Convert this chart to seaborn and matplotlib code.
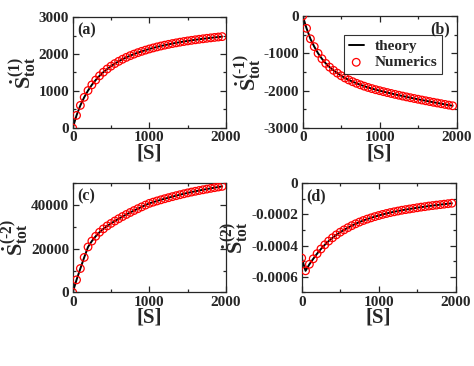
import numpy as np
import matplotlib
matplotlib.use("Agg")
import matplotlib.pyplot as plt
import seaborn as sns
from matplotlib.ticker import MultipleLocator, FuncFormatter

# substrate concentration grid (same for every panel)
S = [0, 50, 100, 150, 200, 250, 300, 350, 400, 450,
     500, 550, 600, 650, 700, 750, 800, 850, 900, 950,
     1000, 1050, 1100, 1150, 1200, 1250, 1300, 1350, 1400, 1450,
     1500, 1550, 1600, 1650, 1700, 1750, 1800, 1850, 1900, 1950]

# panel (a): S_tot^(1)
s_a = [0, 341, 611, 830, 1012, 1166, 1296, 1410, 1508, 1595,
       1672, 1741, 1802, 1858, 1909, 1955, 1997, 2036, 2072, 2105,
       2136, 2164, 2191, 2216, 2239, 2261, 2282, 2301, 2320, 2337,
       2354, 2369, 2384, 2398, 2411, 2424, 2436, 2448, 2459, 2470]

# panel (b): S_tot^(-1)
s_b = [0, -330, -610, -820, -1000, -1145, -1270, -1370, -1455, -1530,
       -1600, -1660, -1713, -1760, -1803, -1843, -1880, -1914, -1945, -1974,
       -2000, -2026, -2051, -2075, -2099, -2122, -2145, -2167, -2189, -2210,
       -2230, -2251, -2271, -2291, -2311, -2330, -2349, -2368, -2387, -2405]

# panel (c): S_tot^(-2)
s_c = [0, 5700, 10900, 16000, 20800, 23500, 25700, 27550, 29100, 30450,
       31600, 32700, 33750, 34750, 35700, 36620, 37500, 38350, 39190, 40010,
       40800, 41360, 41900, 42420, 42920, 43400, 43870, 44320, 44760, 45190,
       45600, 45980, 46340, 46690, 47030, 47360, 47680, 47990, 48300, 48600]

# panel (d): S_tot^(2)
s_d = [-4.80e-4, -5.62e-4, -5.20e-4, -4.85e-4, -4.52e-4, -4.22e-4, -3.95e-4, -3.71e-4, -3.50e-4, -3.31e-4,
       -3.14e-4, -2.99e-4, -2.85e-4, -2.72e-4, -2.60e-4, -2.49e-4, -2.39e-4, -2.30e-4, -2.22e-4, -2.14e-4,
       -2.07e-4, -2.00e-4, -1.94e-4, -1.88e-4, -1.83e-4, -1.78e-4, -1.73e-4, -1.69e-4, -1.65e-4, -1.61e-4,
       -1.57e-4, -1.53e-4, -1.50e-4, -1.46e-4, -1.43e-4, -1.40e-4, -1.37e-4, -1.34e-4, -1.31e-4, -1.28e-4]

sns.set_style("ticks")
plt.rcParams['font.family'] = ['Liberation Serif', 'DejaVu Serif']
plt.rcParams['font.weight'] = 'bold'
plt.rcParams['mathtext.fontset'] = 'custom'
plt.rcParams['mathtext.rm'] = 'Liberation Serif:bold'
plt.rcParams['mathtext.bf'] = 'Liberation Serif:bold'
plt.rcParams['mathtext.it'] = 'Liberation Serif:bold'
plt.rcParams['axes.unicode_minus'] = False

fig = plt.figure(figsize=(4.74, 3.66), dpi=100)

W, H = 474, 366
def box(l, t, r, b):
    return [l / W, 1 - b / H, (r - l) / W, (b - t) / H]

panels = [
    dict(pos=box(72.7, 17, 226, 128), y=s_a, lim=(0, 3000), major=1000, minor=500,
         tag="(a)", tagx=0.03, sup="(1)"),
    dict(pos=box(302.7, 16, 456.5, 128), y=s_b, lim=(-3000, 0), major=1000, minor=500,
         tag="(b)", tagx=0.83, sup="(\u20101)"),
    dict(pos=box(72.7, 183.3, 226, 292.3), y=s_c, lim=(0, 50000), major=20000, minor=10000,
         tag="(c)", tagx=0.03, sup="(\u20102)"),
    dict(pos=box(301.7, 183.3, 455.7, 292.3), y=s_d, lim=(-0.0007, 0), major=0.0002, minor=0.0001,
         tag="(d)", tagx=0.03, sup="(2)"),
]

for i, p in enumerate(panels):
    ax = fig.add_axes(p["pos"])
    show_leg = (i == 1)
    sns.lineplot(x=S, y=p["y"], ax=ax, color="black", linewidth=1.4,
                 label="theory" if show_leg else None, legend=False)
    sns.scatterplot(x=S, y=p["y"], ax=ax, marker="o", s=30, facecolor="none",
                    edgecolor="red", linewidth=0.9,
                    label="Numerics" if show_leg else None, legend=False, zorder=3)
    ax.set_xlim(0, 2000)
    ax.set_ylim(*p["lim"])
    ax.xaxis.set_major_locator(MultipleLocator(1000))
    ax.xaxis.set_minor_locator(MultipleLocator(500))
    ax.yaxis.set_major_locator(MultipleLocator(p["major"]))
    ax.yaxis.set_minor_locator(MultipleLocator(p["minor"]))
    ax.yaxis.set_major_formatter(FuncFormatter(lambda v, _: "%g" % round(v, 6)))
    ax.tick_params(which="both", direction="in", top=True, right=True,
                   labelsize=11, width=0.9)
    ax.tick_params(axis="x", pad=2.5)
    ax.tick_params(axis="y", pad=2.5)
    ax.tick_params(which="major", length=4)
    ax.tick_params(which="minor", length=2)
    for sp in ax.spines.values():
        sp.set_linewidth(0.9)
    ax.set_xlabel("[S]", fontsize=15, fontweight="bold", labelpad=-1)
    ax.set_ylabel(r"$\dot{\mathbf{S}}_{\mathbf{tot}}^{\mathbf{%s}}$" % p["sup"],
                  fontsize=16, labelpad=0)
    ax.text(p["tagx"], 0.95, p["tag"], transform=ax.transAxes, fontsize=11.5,
            fontweight="bold", va="top", ha="left")
    if show_leg:
        h, l = ax.get_legend_handles_labels()
        leg = ax.legend(h, l, loc="upper right", bbox_to_anchor=(0.905, 0.83),
                        frameon=True, fancybox=False, edgecolor="black",
                        fontsize=11, handlelength=1.0, handletextpad=0.7,
                        borderpad=0.3, labelspacing=0.15, borderaxespad=0)
        leg.get_frame().set_linewidth(0.8)

fig.savefig("out.png", dpi=100)
